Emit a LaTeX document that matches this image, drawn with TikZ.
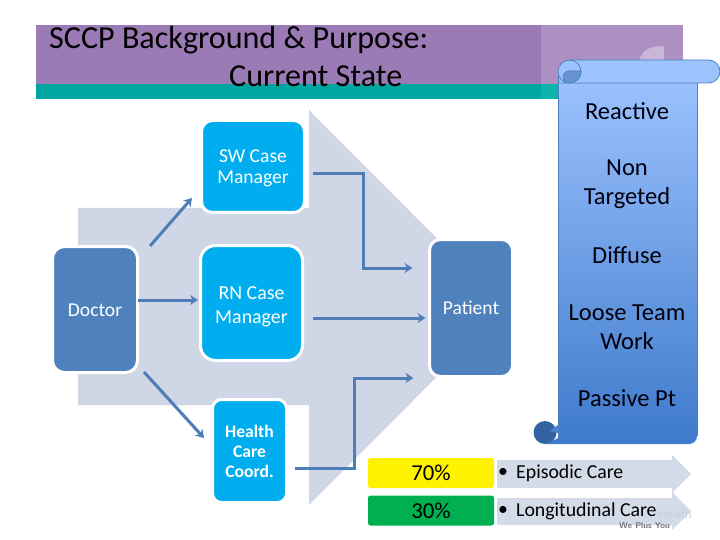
\documentclass[tikz,border=0pt]{standalone}
\usepackage{fontspec}
\setmainfont{Carlito}
\usetikzlibrary{arrows.meta}
\definecolor{cyanbox}{HTML}{00AEEF}
\definecolor{bluebox}{HTML}{4F81BD}
\definecolor{linecol}{HTML}{4F7DB8}
\definecolor{bigarrow}{HTML}{CFD7E6}
\definecolor{smallarrow}{HTML}{D3DAE8}
\definecolor{purpA}{HTML}{9B7BB5}
\definecolor{purpB}{HTML}{AB90C1}
\definecolor{tealA}{HTML}{00A6A0}
\definecolor{tealB}{HTML}{0CB2AC}
\definecolor{scrollTop}{HTML}{9DC3FF}
\definecolor{scrollBot}{HTML}{3E7ACB}
\definecolor{scrollLine}{HTML}{4F7FBD}
\definecolor{pctgreen}{HTML}{00B050}
\tikzset{
 x=1pt,y=-1pt,
 box/.style={draw=white,line width=3pt,text=white,align=center,inner sep=0pt,font=\fontsize{19.6}{21}\selectfont},
 conn/.style={draw=linecol,line width=3pt,-{Stealth[length=8pt,width=10pt]}},
 scrolltext/.style={text=black!95!blue,font=\fontsize{24.5}{29}\selectfont,align=center,inner sep=0pt},
 bar/.style={rounded corners=2.5pt,minimum width=126pt,minimum height=30pt,inner sep=0pt,font=\fontsize{22.8}{25}\selectfont,text=black},
 barlabel/.style={anchor=west,inner sep=0pt,font=\fontsize{19.8}{23}\selectfont,text=black},
 titletext/.style={inner sep=0pt,font=\fontsize{32.1}{35}\selectfont,text=black}
}
\begin{document}
\begin{tikzpicture}
\useasboundingbox (0,0) rectangle (720,540);
\fill[white] (0,0) rectangle (720,540);
% banner
\fill[purpA] (36,25) rectangle (541,84);
\fill[purpB] (541,25) rectangle (683,84);
\fill[tealA] (36,84) rectangle (541,99);
\fill[tealB] (541,84) rectangle (683,99);
\fill[white!35!purpB] (639,62) .. controls (641,50) and (650,46) .. (664,46) -- (664,62) -- cycle;
% large arrow
\fill[bigarrow] (78,208) -- (309,208) -- (309,110) -- (506,307.5) -- (309,505) -- (309,405) -- (78,405) -- cycle;
% nodes
\node[box,fill=cyanbox,rounded corners=11pt,minimum width=103pt,minimum height=92pt] (sw) at (253,166.5) {};
\node[box,fill=cyanbox,rounded corners=15pt,minimum width=102pt,minimum height=115pt] (rn) at (251.5,303) {};
\node[box,fill=bluebox,rounded corners=12pt,minimum width=85pt,minimum height=126pt] (doctor) at (95,309.5) {};
\node[box,fill=cyanbox,rounded corners=9pt,minimum width=74pt,minimum height=103pt] (hc) at (249.5,451) {};
\node[box,fill=bluebox,rounded corners=11pt,minimum width=83pt,minimum height=137pt] (patient) at (471,308) {};
\node[box,draw=none] (swtext) at (253,168) {SW Case\\Manager};
\node[box,draw=none,font=\fontsize{19.9}{24}\selectfont] (rntext) at (251.5,307) {RN Case\\Manager};
\node[box,draw=none] (doctortext) at (95,310) {Doctor};
\node[box,draw=none,font=\fontsize{17.6}{20}\bfseries\selectfont] (hctext) at (249.5,451) {Health\\Care\\Coord.};
\node[box,draw=none] (patienttext) at (471,307.5) {Patient};
% connectors
\draw[conn] ([shift={(11,1)}]doctor.north east) -- ([shift={(-8,-16)}]sw.south west);
\draw[conn] ([shift={(-1,-9.5)}]doctor.east) -- ([shift={(-1,-3)}]rn.west);
\draw[conn] ([shift={(5,-2)}]doctor.south east) -- ([shift={(-7,-13)}]hc.west);
\draw[conn] ([shift={(6.5,7.5)}]sw.east) -| (363,268) -- ([shift={(-15.5,-40)}]patient.west);
\draw[conn] ([shift={(8.5,15)}]rn.east) -- ([shift={(-2.5,10)}]patient.west);
\draw[conn] ([shift={(6.5,17)}]hc.east) -| (354,378) -- ([shift={(-14.5,70)}]patient.west);
% scroll
\fill[black!20!scrollBot] (545,432.5) circle[radius=11.5];
\shade[top color=scrollTop,bottom color=scrollBot]
  (558,72) -- (697,72) -- (697,436) arc[start angle=0,end angle=90,radius=8] -- (546,444) -- (558,438) -- cycle;
\draw[scrollLine,line width=.7pt] (558,72) -- (558,434) (697,72) -- (697,436);
\fill[scrollBot!92!scrollTop] (549,431) -- (558,425) -- (558,433) -- cycle;
\filldraw[fill=scrollTop,draw=scrollLine,line width=.8pt] (558,83) -- (708.5,83) arc[start angle=90,end angle=-90,radius=11.5] -- (569.5,60) arc[start angle=-90,end angle=-270,radius=11.5] -- cycle;
\draw[scrollLine,line width=.8pt] (569.5,60) arc[start angle=-90,end angle=90,radius=11.5];
\filldraw[fill=scrollLine!70!scrollTop,draw=scrollLine,line width=.6pt] (581,71) -- (569,71) arc[start angle=-90,end angle=-270,radius=6] -- (569.5,83) arc[start angle=90,end angle=0,radius=11.5] -- cycle;
% scroll text
\node[scrolltext] (reactive) at (627,111) {Reactive};
\node[scrolltext] (nontargeted) at (627,184.5) {Non\\Targeted};
\node[scrolltext] (diffuse) at (627,255) {Diffuse};
\node[scrolltext] (loose) at (627,327.5) {Loose Team\\Work};
\node[scrolltext] (passive) at (627,398.5) {Passive Pt};
% title
\node[titletext,anchor=west] (title1) at (49,40) {SCCP Background \& Purpose:};
\node[titletext,anchor=west] (title2) at (229,76.5) {Current State};
% bottom arrows
\fill[smallarrow] (497,460) -- (672,460) -- (672,455) -- (691,474) -- (672,493) -- (672,488) -- (497,488) -- cycle;
\fill[smallarrow] (497,498) -- (672,498) -- (672,492) -- (691,511) -- (672,530) -- (672,525) -- (497,525) -- cycle;
\node[inner sep=0pt,font=\fontsize{12}{14}\selectfont,text=black!5!smallarrow,anchor=west] (logoa) at (659,514) {Health};
\node[inner sep=0pt,font=\sffamily\bfseries\fontsize{8.5}{10}\selectfont,text=black!55] (logob) at (644.5,526) {We Plus You};
\node[bar,fill=yellow] (p70) at (431,473) {70\%};
\node[bar,fill=pctgreen] (p30) at (431,510.5) {30\%};
\node[barlabel] (bul1) at (498,473) {•};
\node[barlabel] (lab1) at (516,473) {Episodic Care};
\node[barlabel] (bul2) at (498,511) {•};
\node[barlabel] (lab2) at (516,511) {Longitudinal Care};
\end{tikzpicture}
\end{document}
